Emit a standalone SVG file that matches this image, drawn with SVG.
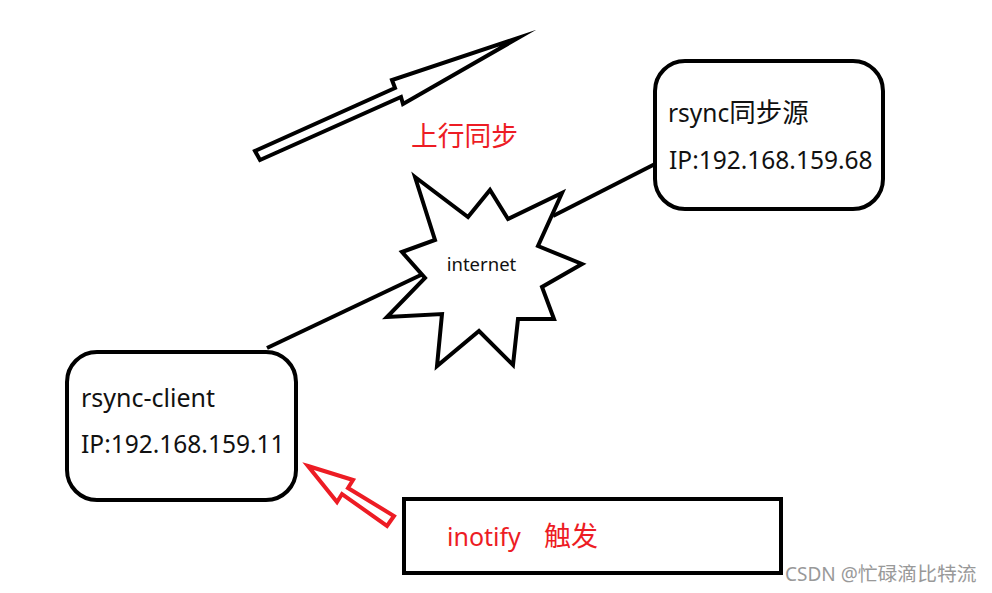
<svg xmlns="http://www.w3.org/2000/svg" width="992" height="593" viewBox="0 0 992 593">
<style>
.b{fill:#fff;stroke:#000;stroke-width:4}
.t{font-family:"Noto Sans","Open Sans","Noto Sans CJK SC",sans-serif;font-size:24.5px;fill:#111}
.cjk{font-family:"Noto Sans CJK SC","Noto Sans",sans-serif}
.r{fill:#ed1c24}
</style>
<rect width="992" height="593" fill="#fff"/>
<g id="connectors" fill="none" stroke="#000" stroke-width="4">
<path d="M553 216L655 164"/>
<path d="M267 348L423 274"/>
</g>
<g id="source">
<rect class="b" x="655" y="61" width="228" height="148" rx="30"/>
<text class="t" x="668" y="122">rsync<tspan class="cjk" font-size="26.5">同步源</tspan></text>
<text class="t" x="669" y="169">IP:192.168.159.68</text>
</g>
<g id="client">
<rect class="b" x="67" y="352" width="229" height="148" rx="30"/>
<text class="t" x="81" y="407" font-size="25" style="font-size:25px">rsync-client</text>
<text class="t" x="81" y="453">IP:192.168.159.11</text>
</g>
<g id="internet">
<polygon class="b" stroke-miterlimit="10" points="415,177 468,217 490,190 508,219 562,193 538,246 582,264 542,287 554,319 518,319 513,365 479,331 437,366 442,314 387,317 425,278 402,252 435,240"/>
<text x="481.500" y="271" font-family="'Noto Sans','Open Sans',sans-serif" font-size="18.500" fill="#111" text-anchor="middle">internet</text>
</g>
<g id="up-arrow">
<polygon class="b" stroke-miterlimit="20" points="255,151 260,160 401,97 403,104 518,38 392,80 395,88"/>
<text x="411" y="146" class="cjk r" font-size="26.750">上行同步</text>
</g>
<g id="inotify">
<rect x="404" y="499" width="377" height="74" fill="#fff" stroke="#000" stroke-width="4"/>
<text x="447" y="546" font-family="'Noto Sans','Noto Sans CJK SC',sans-serif" font-size="25" class="r">inotify</text>
<text x="544" y="546" class="cjk r" font-size="27">触发</text>
</g>
<g id="red-arrow">
<polygon fill="#fff" stroke="#ed1c24" stroke-width="4" stroke-miterlimit="20" points="308,466 353,480 348,488 394,516 387,526 342,494 337,502"/>
</g>
<text x="785" y="581" font-family="'Noto Sans','Noto Sans CJK SC',sans-serif" font-size="19" fill="#999">CSDN @<tspan class="cjk" font-size="19.800">忙碌滴比特流</tspan></text>
</svg>
